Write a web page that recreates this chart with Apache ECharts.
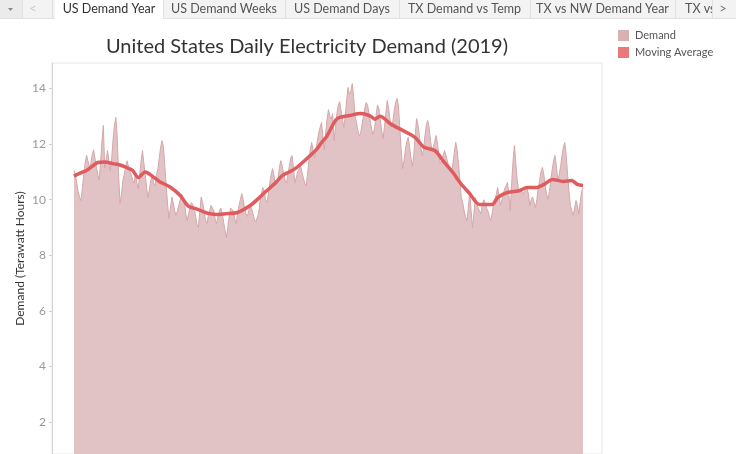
<!DOCTYPE html>
<html>
<head>
<meta charset="utf-8">
<script src="https://cdn.jsdelivr.net/npm/echarts@6/dist/echarts.min.js"></script>
<style>
  html, body { margin: 0; padding: 0; background: #fff; }
  #main { width: 736px; height: 454px; }
</style>
</head>
<body>
<div id="main"></div>
<script>
// daily demand 2019, day 1..365 (TWh)
var demand = [
  11.05, 10.9, 10.6, 10.3, 10.1, 9.97, 10.4, 10.9, 11.3, 11.6,
  11.4, 11.2, 11.3, 11.6, 11.8, 11.5, 11.2, 10.9, 10.7, 11.3,
  12.1, 12.67, 11.15, 11.4, 11.77, 11.4, 11.05, 11.5, 12.2, 12.7,
  12.96, 12.2, 10.8, 9.87, 10.2, 10.7, 10.9, 11.2, 11.4, 11.2,
  11.0, 10.9, 10.7, 10.6, 10.9, 10.6, 10.4, 10.9, 11.4, 11.77,
  11.3, 10.9, 10.4, 10.08, 10.4, 10.7, 10.9, 10.6, 10.5, 10.9,
  11.1, 11.5, 11.9, 12.13, 11.9, 11.2, 10.5, 9.8, 9.33, 9.7,
  10.1, 9.9, 9.6, 9.43, 9.6, 9.8, 10.0, 10.2, 10.22, 9.9,
  9.5, 9.25, 9.5, 9.7, 9.9, 9.97, 9.7, 9.4, 9.1, 9.0,
  9.6, 10.1, 9.9, 9.6, 9.3, 9.14, 9.4, 9.6, 9.8, 9.86,
  9.6, 9.3, 9.14, 9.4, 9.6, 9.7, 9.5, 9.2, 8.9, 8.65,
  9.0, 9.4, 9.7, 9.76, 9.6, 9.3, 9.14, 9.5, 9.8, 10.0,
  10.22, 10.0, 9.7, 9.5, 9.4, 9.6, 9.8, 9.7, 9.5, 9.3,
  9.2, 9.18, 9.5, 9.9, 10.2, 10.44, 10.3, 10.0, 9.9, 10.2,
  10.6, 10.9, 11.12, 10.9, 10.5, 10.44, 10.8, 11.2, 11.41, 11.2,
  10.9, 10.7, 10.6, 10.9, 11.2, 11.5, 11.59, 11.1, 10.6, 10.8,
  11.0, 11.1, 11.23, 11.0, 10.8, 10.6, 10.5, 10.9, 11.4, 11.8,
  12.06, 11.8, 11.5, 11.8, 12.1, 12.4, 12.6, 12.78, 12.3, 11.8,
  12.4, 12.9, 13.24, 13.0, 12.9, 13.1, 12.13, 12.6, 13.1, 13.4,
  13.53, 13.2, 12.9, 12.6, 13.0, 13.6, 14.04, 13.8, 13.9, 14.18,
  13.7, 13.0, 12.8, 12.5, 12.3, 12.4, 12.7, 13.0, 13.3, 13.5,
  13.4, 13.1, 12.8, 12.5, 12.35, 12.6, 13.0, 13.4, 13.3, 12.9,
  12.5, 12.2, 12.6, 13.1, 13.57, 13.3, 12.9, 12.6, 12.8, 13.2,
  13.5, 13.64, 13.4, 12.6, 11.8, 11.12, 11.4, 11.8, 12.1, 12.24,
  11.9, 11.5, 11.2, 11.6, 12.3, 12.92, 12.7, 12.3, 11.9, 11.6,
  11.8, 12.3, 12.7, 12.85, 12.6, 12.1, 11.8, 11.9, 12.1, 12.31,
  12.0, 11.6, 11.3, 11.4, 11.6, 11.77, 11.6, 11.4, 11.2, 11.1,
  11.0, 11.3, 11.7, 12.06, 11.8, 11.3, 10.7, 10.08, 9.9, 9.6,
  9.4, 9.25, 9.7, 10.3, 9.6, 9.0, 9.5, 10.08, 9.9, 9.7,
  9.6, 9.5, 9.8, 10.0, 9.9, 9.7, 9.6, 9.4, 9.25, 9.5,
  9.8, 10.0, 10.2, 10.44, 10.1, 9.8, 10.0, 10.2, 10.4, 10.5,
  10.62, 10.2, 9.6, 10.6, 11.4, 11.95, 11.3, 10.7, 10.3, 10.4,
  10.3, 10.2, 10.3, 10.35, 10.4, 10.2, 9.8, 10.0, 10.1, 9.9,
  9.72, 10.0, 10.4, 10.7, 11.0, 11.16, 10.9, 10.5, 10.2, 10.0,
  10.3, 10.7, 11.1, 11.4, 11.59, 11.2, 10.7, 10.9, 11.2, 11.6,
  11.9, 12.06, 11.6, 10.9, 10.3, 9.8, 9.6, 9.43, 9.7, 9.97,
  9.8, 9.5, 9.9, 10.3, 10.44
];

// moving average, read at these days
var maDays = [1, 5, 10, 14, 18, 23, 29, 34, 39, 43, 47, 52, 57, 62, 70, 77, 83, 88, 93, 98,
  103, 110, 118, 127, 133, 139, 145, 150, 155, 160, 168, 175, 178, 182, 188, 191, 198, 206, 211, 214,
  216, 220, 227, 232, 239, 245, 251, 259, 265, 272, 277, 284, 291, 300, 304, 311, 320, 325, 332, 338,
  343, 351, 357, 361, 365];
var maVals = [10.85, 10.95, 11.05, 11.2, 11.34, 11.36, 11.3, 11.25, 11.15, 11.05, 10.8, 11.0, 10.85, 10.66, 10.45, 10.15, 9.76, 9.68, 9.58, 9.5,
  9.47, 9.5, 9.54, 9.79, 10.05, 10.33, 10.6, 10.87, 11.0, 11.15, 11.5, 11.84, 12.05, 12.3, 12.85, 12.96, 13.03, 13.1, 13.05, 12.98,
  12.9, 13.0, 12.74, 12.6, 12.42, 12.24, 11.9, 11.77, 11.4, 10.98, 10.62, 10.22, 9.83, 9.83, 10.08, 10.26, 10.33, 10.44, 10.44, 10.58,
  10.73, 10.66, 10.69, 10.55, 10.51];

var seriesNames = ['Demand', 'Moving Average'];
var yTicks = [2, 4, 6, 8, 10, 12, 14];
var tabs = ['US Demand Year', 'US Demand Weeks', 'US Demand Days', 'TX Demand vs Temp', 'TX vs NW Demand Year', 'TX vs'];

var chart = echarts.init(document.getElementById('main'));
var font = 'Lato, "Open Sans", sans-serif';

// tab strip (x ranges of each tab)
var tabX = [[55, 163], [163, 285], [285, 399], [399, 530], [530, 675], [675, 712]];
var tabGfx = [
  { type: 'rect', shape: { x: 0, y: 0, width: 736, height: 19 }, style: { fill: '#f3f3f3' }, silent: true },
  { type: 'rect', shape: { x: 0, y: 0, width: 22, height: 19 }, style: { fill: '#ebebeb' }, silent: true },
  { type: 'polygon', shape: { points: [[8, 8], [13, 8], [10.5, 11]] }, style: { fill: '#888' }, silent: true },
  { type: 'text', x: 33, y: 9, style: { text: '<', fill: '#c8c8c8', font: '13px ' + font, align: 'center', verticalAlign: 'middle' } },
  { type: 'line', shape: { x1: 22.5, y1: 0, x2: 22.5, y2: 19 }, style: { stroke: '#e0e0e0' } },
  { type: 'line', shape: { x1: 52.5, y1: 0, x2: 52.5, y2: 19 }, style: { stroke: '#e0e0e0' } },
  { type: 'line', shape: { x1: 0, y1: 18.5, x2: 736, y2: 18.5 }, style: { stroke: '#e2e2e2' } }
];
tabs.forEach(function (t, i) {
  var r = tabX[i];
  if (i === 0) {
    tabGfx.push({ type: 'rect', shape: { x: r[0], y: 0, width: r[1] - r[0], height: 20 }, style: { fill: '#fff' }, silent: true });
  }
  tabGfx.push({ type: 'line', shape: { x1: r[1] + 0.5, y1: 0, x2: r[1] + 0.5, y2: 19 }, style: { stroke: '#e0e0e0' } });
  var last = i === tabs.length - 1;
  tabGfx.push({
    type: 'text', x: last ? r[0] + 10 : (r[0] + r[1]) / 2, y: 9,
    style: { text: t, fill: i === 0 ? '#333' : '#555', font: '12.5px ' + font, align: last ? 'left' : 'center', verticalAlign: 'middle' }
  });
});
// right scroll button covers the clipped last tab
tabGfx.push({ type: 'rect', shape: { x: 713, y: 0, width: 23, height: 18 }, style: { fill: '#f3f3f3' }, silent: true });
tabGfx.push({ type: 'line', shape: { x1: 712.5, y1: 0, x2: 712.5, y2: 19 }, style: { stroke: '#e0e0e0' } });
tabGfx.push({ type: 'text', x: 723, y: 9, style: { text: '>', fill: '#777', font: '13px ' + font, align: 'center', verticalAlign: 'middle' } });

chart.setOption({
  animation: false,
  title: {
    text: 'United States Daily Electricity Demand (2019)',
    left: 302, top: 32, textAlign: 'center',
    textStyle: { fontFamily: font, fontSize: 20, fontWeight: 'normal', color: '#333' }
  },
  legend: {
    orient: 'vertical', left: 613, top: 25, itemWidth: 11, itemHeight: 11, itemGap: 6,
    icon: 'rect',
    textStyle: { fontFamily: font, fontSize: 11, color: '#555', padding: [0, 0, 0, 1] },
    data: [
      { name: seriesNames[0], itemStyle: { color: '#dbb0b3' } },
      { name: seriesNames[1], itemStyle: { color: '#e8787a' } }
    ]
  },
  graphic: tabGfx,
  grid: {
    left: 52, top: 63, right: 134, bottom: 0,
    show: true, borderColor: '#e6e6e6', borderWidth: 1
  },
  xAxis: {
    type: 'value', min: -14.7, max: 378.6, show: false
  },
  yAxis: {
    // bottom of the window sits at ~0.85 TWh
    type: 'value', min: 0.85, max: 14.92,
    name: 'Demand (Terawatt Hours)', nameLocation: 'middle', nameGap: 26,
    nameMoveOverlap: false,
    nameTextStyle: { fontFamily: font, fontSize: 12, color: '#333' },
    axisLine: { show: true, onZero: false, lineStyle: { color: '#d4d4d4' } },
    axisTick: { show: true, length: 3, customValues: yTicks, lineStyle: { color: '#d4d4d4' } },
    splitLine: { show: false },
    axisLabel: {
      margin: 6, fontFamily: font, fontSize: 12, color: '#999',
      customValues: yTicks
    }
  },
  series: [
    {
      name: seriesNames[0], type: 'line', showSymbol: false,
      data: demand.map(function (v, i) { return [i + 1, v]; }),
      itemStyle: { color: '#dbb0b3' },
      lineStyle: { width: 1, color: '#d5a7aa' },
      areaStyle: { color: '#e1c3c5', opacity: 1 },
      z: 2
    },
    {
      name: seriesNames[1], type: 'line', showSymbol: false, smooth: 0.3,
      data: maDays.map(function (d, i) { return [d, maVals[i]]; }),
      itemStyle: { color: '#e8787a' },
      lineStyle: { width: 3.5, color: '#df5b5e' },
      z: 3
    }
  ]
});
</script>
</body>
</html>
